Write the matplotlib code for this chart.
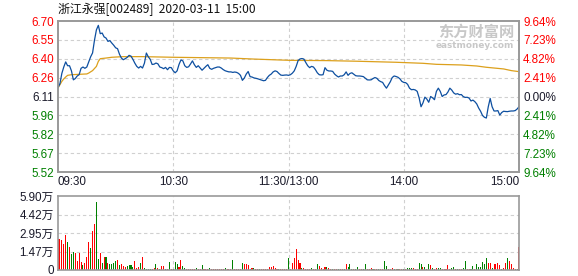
import matplotlib
matplotlib.use("Agg")
import matplotlib.pyplot as plt

# ---------------------------------------------------------------
# Data (浙江永强 002489, 2020-03-11)
# ---------------------------------------------------------------

TITLE = "浙江永强[002489]  2020-03-11  15:00"
PREV_CLOSE = 6.11
PRICE_TICKS = [5.521, 5.668, 5.816, 5.963, 6.11, 6.257, 6.404, 6.552, 6.699]
PRICE_LABELS = ["5.52", "5.67", "5.82", "5.96", "6.11", "6.26", "6.40", "6.55", "6.70"]
PCT_LABELS = ["9.64%", "7.23%", "4.82%", "2.41%", "0.00%", "2.41%", "4.82%", "7.23%", "9.64%"]
TIME_TICKS = [0, 60, 120, 180, 240]
TIME_LABELS = ["09:30", "10:30", "11:30/13:00", "14:00", "15:00"]

# last price for each minute, 0 = 09:30, 240 = 15:00
price = [
    6.18, 6.21, 6.29, 6.34, 6.38, 6.35, 6.35, 6.31, 6.24, 6.25,
    6.27, 6.28, 6.33, 6.34, 6.33, 6.34, 6.38, 6.42, 6.45, 6.55,
    6.63, 6.665, 6.60, 6.605, 6.575, 6.566, 6.54, 6.546, 6.527, 6.51,
    6.49, 6.483, 6.44, 6.41, 6.397, 6.405, 6.415, 6.431, 6.425, 6.40,
    6.37, 6.345, 6.332, 6.345, 6.332, 6.37, 6.449, 6.42, 6.40, 6.36,
    6.362, 6.371, 6.365, 6.34, 6.335, 6.327, 6.337, 6.319, 6.337, 6.335,
    6.31, 6.295, 6.31, 6.36, 6.395, 6.388, 6.35, 6.337, 6.342, 6.364,
    6.388, 6.358, 6.337, 6.35, 6.332, 6.315, 6.33, 6.345, 6.358, 6.33,
    6.322, 6.33, 6.335, 6.34, 6.34, 6.332, 6.32, 6.311, 6.306, 6.302,
    6.302, 6.298, 6.301, 6.298, 6.29, 6.275, 6.236, 6.254, 6.285, 6.305,
    6.265, 6.262, 6.255, 6.252, 6.248, 6.243, 6.238, 6.233, 6.236, 6.258,
    6.275, 6.285, 6.302, 6.31, 6.305, 6.29, 6.277, 6.275, 6.277, 6.278,
    6.275, 6.28, 6.292, 6.31, 6.345, 6.39, 6.403, 6.406, 6.402, 6.375,
    6.35, 6.335, 6.345, 6.34, 6.32, 6.295, 6.28, 6.278, 6.28, 6.335,
    6.315, 6.309, 6.309, 6.306, 6.285, 6.272, 6.262, 6.27, 6.27, 6.28,
    6.302, 6.275, 6.29, 6.295, 6.283, 6.272, 6.27, 6.27, 6.268, 6.265,
    6.252, 6.24, 6.239, 6.24, 6.25, 6.258, 6.252, 6.235, 6.226, 6.22,
    6.195, 6.175, 6.20, 6.225, 6.258, 6.27, 6.266, 6.26, 6.248, 6.228,
    6.22, 6.218, 6.205, 6.175, 6.163, 6.165, 6.161, 6.15, 6.10, 6.03,
    6.06, 6.105, 6.09, 6.065, 6.11, 6.10, 6.085, 6.15, 6.175, 6.15,
    6.11, 6.122, 6.125, 6.145, 6.175, 6.16, 6.138, 6.128, 6.132, 6.124,
    6.125, 6.109, 6.103, 6.104, 6.098, 6.075, 6.082, 6.07, 6.052, 6.02,
    5.995, 5.962, 5.948, 5.942, 6.03, 6.095, 6.03, 5.997, 5.997, 6.00,
    5.965, 5.985, 5.995, 5.993, 5.992, 5.995, 5.997, 5.997, 6.00, 6.012,
    6.03,
]

# average price line, sampled where it visibly changes
avg_min = [0, 2, 3, 4, 5, 7, 11, 15, 16, 18, 20, 21, 22, 25, 28, 34, 44, 60,
           90, 102, 121, 140, 156, 176, 190, 197, 210, 218, 223, 232, 236, 240]
avg_price = [6.176, 6.228, 6.247, 6.262, 6.275, 6.280, 6.283, 6.286, 6.293,
             6.312, 6.345, 6.384, 6.405, 6.410, 6.416, 6.421, 6.421, 6.416,
             6.410, 6.402, 6.392, 6.390, 6.385, 6.377, 6.369, 6.361, 6.356,
             6.348, 6.338, 6.325, 6.312, 6.304]

# volume per minute in 万 shares
volume = [
    2.50, 2.48, 2.40, 2.08, 2.80, 2.22, 1.82, 1.28, 1.47, 1.36,
    0.75, 1.36, 0.61, 0.43, 0.56, 1.07, 2.22, 1.76, 3.10, 3.68,
    5.42, 0.88, 1.36, 0.56, 1.04, 1.04, 0.56, 0.48, 0.48, 0.56,
    0.69, 0.80, 0.43, 0.48, 0.35, 0.27, 0.35, 0.43, 0.43, 0.27,
    0.75, 0.16, 0.27, 0.53, 1.07, 0.16, 0.08, 0.08, 0.08, 0.08,
    0.16, 0.48, 0.16, 0.08, 0.35, 0.35, 0.08, 0.08, 0.61, 0.08,
    0.10, 0.64, 0.48, 0.27, 0.80, 0.32, 0.19, 0.08, 0.08, 0.08,
    0.08, 0.08, 0.19, 0.08, 0.08, 0.40, 0.08, 0.08, 0.08, 0.19,
    0.08, 0.08, 0.08, 0.08, 0.08, 0.08, 0.08, 0.19, 0.08, 0.08,
    0.08, 0.80, 0.08, 0.08, 0.08, 0.08, 0.56, 0.48, 0.45, 0.37,
    0.11, 0.19, 0.16, 0.08, 0.08, 0.08, 0.08, 0.08, 0.08, 0.08,
    0.24, 0.24, 0.35, 0.16, 0.08, 0.08, 0.08, 0.08, 0.08, 0.08,
    0.96, 0.11, 0.58, 0.96, 1.67, 0.80, 0.56, 0.19, 0.19, 0.11,
    0.11, 0.08, 0.19, 0.08, 0.08, 0.48, 0.32, 0.13, 0.08, 0.24,
    0.24, 0.16, 0.11, 0.08, 0.08, 0.08, 0.08, 0.08, 0.08, 0.08,
    0.48, 0.24, 0.48, 0.08, 0.08, 0.08, 0.21, 0.08, 0.08, 0.08,
    0.48, 0.08, 0.08, 0.16, 0.08, 0.08, 0.08, 0.08, 0.08, 0.08,
    0.72, 0.32, 0.08, 0.11, 0.16, 0.08, 0.08, 0.08, 0.08, 0.08,
    0.08, 0.08, 0.13, 0.13, 0.13, 0.16, 0.08, 0.08, 0.56, 0.45,
    0.27, 0.24, 0.08, 0.48, 0.37, 0.19, 0.08, 0.13, 0.13, 0.13,
    0.08, 0.08, 0.08, 0.40, 0.08, 0.19, 0.24, 0.08, 0.08, 0.08,
    0.08, 0.19, 0.72, 0.08, 0.11, 0.08, 0.32, 0.11, 0.48, 0.24,
    0.24, 0.64, 0.48, 0.96, 0.56, 0.53, 0.19, 0.48, 0.48, 0.56,
    0.43, 0.08, 0.19, 0.56, 0.96, 0.72, 0.48, 0.13, 0.08, 0.08,
    1.86,
]

# 1 = up minute (red), 0 = down minute (green)
up = [
    1, 1, 1, 1, 1, 0, 1, 0, 0, 1,
    1, 1, 1, 0, 1, 1, 1, 0, 1, 1,
    0, 0, 1, 0, 1, 0, 1, 0, 0, 0,
    0, 1, 0, 1, 1, 1, 0, 0, 0, 0,
    1, 1, 1, 0, 1, 0, 0, 0, 0, 1,
    1, 0, 1, 0, 1, 1, 0, 1, 0, 1,
    0, 0, 0, 1, 1, 0, 0, 1, 1, 1,
    1, 1, 0, 1, 1, 0, 1, 1, 1, 0,
    1, 1, 1, 1, 1, 1, 1, 0, 1, 1,
    1, 0, 1, 1, 1, 1, 0, 1, 1, 1,
    0, 1, 0, 1, 1, 0, 1, 1, 1, 1,
    1, 1, 1, 1, 1, 0, 1, 1, 1, 1,
    0, 1, 1, 1, 1, 1, 1, 0, 1, 1,
    1, 1, 0, 1, 1, 0, 1, 1, 1, 1,
    0, 1, 1, 0, 1, 1, 0, 1, 1, 0,
    1, 0, 0, 0, 1, 0, 0, 1, 1, 0,
    0, 1, 1, 1, 0, 1, 1, 0, 1, 1,
    0, 0, 1, 1, 1, 0, 1, 0, 1, 1,
    0, 1, 0, 0, 0, 1, 1, 1, 0, 0,
    1, 0, 1, 0, 1, 0, 1, 1, 0, 0,
    1, 1, 1, 1, 1, 0, 0, 1, 0, 1,
    1, 0, 0, 1, 1, 0, 0, 1, 0, 0,
    0, 0, 0, 0, 1, 1, 0, 1, 1, 1,
    1, 0, 1, 1, 0, 1, 1, 1, 1, 0,
    1,
]

VOL_TICKS = [0, 1.475, 2.95, 4.425, 5.90]
VOL_LABELS = ["0", "1.47万", "2.95万", "4.42万", "5.90万"]

# ---------------------------------------------------------------
# Style
# ---------------------------------------------------------------
RED = "#ff0000"
GREEN = "#008000"
DARK = "#1a1a2a"
BORDER = "#999999"
GRID = "#d0d0d0"
LINE_BLUE = "#0d4fa0"
AVG_GOLD = "#dca01c"
FONT = ["Liberation Sans", "Noto Sans CJK SC"]
FS = 8.4

W, H = 578, 276
fig = plt.figure(figsize=(W / 100, H / 100), dpi=100)


def px_axes(x0, y0, x1, y1):
    return fig.add_axes([x0 / W, 1 - y1 / H, (x1 - x0) / W, (y1 - y0) / H])


def style_frame(ax):
    for sp in ax.spines.values():
        sp.set_color(BORDER)
        sp.set_linewidth(1.2)
    ax.tick_params(length=0)


def dashed(ax, xs, ys):
    for x in xs:
        ax.axvline(x, color=GRID, linestyle=(0, (3, 2.5)), linewidth=0.8, zorder=0)
    for y in ys:
        ax.axhline(y, color=GRID, linestyle=(0, (3, 2.5)), linewidth=0.8, zorder=0)


# ---------------------------------------------------------------
# Price panel
# ---------------------------------------------------------------
ax = px_axes(58, 21, 519, 172)
style_frame(ax)
ax.set_xlim(TIME_TICKS[0], TIME_TICKS[-1])
ax.set_ylim(PRICE_TICKS[0], PRICE_TICKS[-1])
dashed(ax, TIME_TICKS[1:-1], PRICE_TICKS[1:-1])

ax.plot(range(len(price)), price, color=LINE_BLUE, linewidth=0.9, zorder=3)
ax.plot(avg_min, avg_price, color=AVG_GOLD, linewidth=0.9, zorder=2)

ax.set_yticks(PRICE_TICKS)
ax.set_yticklabels(PRICE_LABELS, family=FONT, fontsize=FS)
for val, lab in zip(PRICE_TICKS, ax.get_yticklabels()):
    lab.set_color(RED if val > PREV_CLOSE else GREEN if val < PREV_CLOSE else DARK)
ax.tick_params(axis="y", pad=3)

ax.set_xticks(TIME_TICKS)
ax.set_xticklabels(TIME_LABELS, family=FONT, fontsize=FS, color=DARK)
xl = ax.get_xticklabels()
xl[0].set_ha("left")
xl[-1].set_ha("right")
ax.tick_params(axis="x", pad=3)

ax2 = ax.twinx()
style_frame(ax2)
ax2.set_ylim(ax.get_ylim())
ax2.set_yticks(PRICE_TICKS)
ax2.set_yticklabels(PCT_LABELS, family=FONT, fontsize=FS)
for val, lab in zip(PRICE_TICKS, ax2.get_yticklabels()):
    lab.set_color(RED if val > PREV_CLOSE else GREEN if val < PREV_CLOSE else DARK)
ax2.tick_params(axis="y", pad=3)

# watermark
ax.text(0.99, 0.93, "东方财富网", transform=ax.transAxes, ha="right", va="center",
        family=["Noto Sans CJK SC"], fontsize=11, fontweight="bold",
        color="#c8c8c8", zorder=1)
ax.text(0.99, 0.84, "eastmoney.com", transform=ax.transAxes, ha="right", va="center",
        family=["DejaVu Sans"], fontsize=6.4, fontweight="bold",
        color="#c8c8c8", zorder=1)

fig.text(58 / W, 1 - 9.5 / H, TITLE, ha="left", va="center",
         family=["Noto Sans CJK SC", "DejaVu Sans"], fontsize=8.6, color="#111111")

# ---------------------------------------------------------------
# Volume panel
# ---------------------------------------------------------------
vx = px_axes(58, 196, 519, 270)
style_frame(vx)
vx.set_xlim(TIME_TICKS[0], TIME_TICKS[-1])
vx.set_ylim(VOL_TICKS[0], VOL_TICKS[-1])
dashed(vx, TIME_TICKS[1:-1], VOL_TICKS[1:-1])

colors = [RED if u else GREEN for u in up]
vx.bar(range(len(volume)), volume, width=0.55, color=colors,
       linewidth=0, antialiased=False, zorder=2)

vx.set_xticks([])
vx.set_yticks(VOL_TICKS)
vx.set_yticklabels(VOL_LABELS, family=FONT, fontsize=FS, color=DARK)
vx.tick_params(axis="y", pad=3)

fig.savefig("out.png", dpi=100)
